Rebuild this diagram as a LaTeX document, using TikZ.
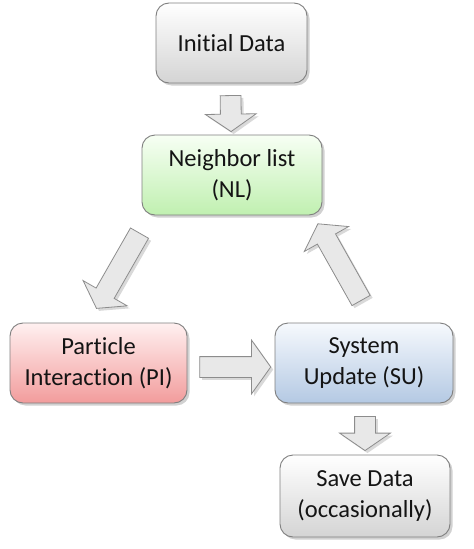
\documentclass[tikz,border=0pt]{standalone}
\usepackage{fontspec}
\setmainfont{Carlito}[Ligatures={NoCommon,NoRare}]
\usetikzlibrary{shapes.arrows,shadows,calc}
\definecolor{boxline}{HTML}{7F7F7F}
\definecolor{arrowline}{HTML}{8C8C8C}
\definecolor{arrowfill}{HTML}{E8E8E8}
\definecolor{textcol}{HTML}{141414}
\definecolor{graybot}{HTML}{D4D4D4}
\definecolor{greentop}{HTML}{F7FFF4}
\definecolor{greenbot}{HTML}{C0F0B0}
\definecolor{redtop}{HTML}{FFF0F0}
\definecolor{redbot}{HTML}{F29C9C}
\definecolor{bluetop}{HTML}{F6F9FD}
\definecolor{bluebot}{HTML}{B4C9E3}
\begin{document}
\begin{tikzpicture}[x=1pt,y=-1pt,
  box/.style={draw=boxline, line width=0.9pt, rounded corners=13pt,
    minimum height=80pt, align=center, inner sep=0pt,
    font=\fontsize{24.5}{31}\selectfont, text=textcol,
    drop shadow={shadow xshift=2.5pt, shadow yshift=-2.5pt, fill=black, opacity=.18}},
  graybox/.style={box, top color=white, bottom color=graybot},
  greenbox/.style={box, top color=greentop, bottom color=greenbot},
  redbox/.style={box, top color=redtop, bottom color=redbot},
  bluebox/.style={box, top color=bluetop, bottom color=bluebot},
  blockarrow/.style={single arrow, draw=arrowline, line width=0.8pt, fill=arrowfill,
    inner xsep=0pt, inner ysep=10pt, single arrow head extend=15pt,
    single arrow tip angle=111, anchor=center,
    drop shadow={shadow xshift=2.5pt, shadow yshift=-2.5pt, fill=black, opacity=.15}}
]
\useasboundingbox (0,0) rectangle (474,549);

\node[graybox,  minimum width=151pt] (init) at (231.5,43)  {Initial Data};
\node[greenbox, minimum width=180pt] (nl)   at (232,175)   {Neighbor list\\(NL)};
\node[redbox,   minimum width=177pt] (pi)   at (98.5,363)  {Particle\\Interaction (PI)};
\node[bluebox,  minimum width=178pt] (su)   at (364,363)   {System\\Update (SU)};
\node[graybox,  minimum width=170pt, minimum height=82pt] (save) at (365,496) {Save Data\\(occasionally)};

\coordinate (t1) at ($(init.south)+(-1,9)$);
\coordinate (h1) at ($(nl.north)+(-1,-7)$);
\coordinate (t2) at ($(nl.south west)+(-0.5,15)$);
\coordinate (h2) at ($(pi.north)+(0,-17.7)$);
\coordinate (t3) at ($(su.north)+(-1.5,-19.5)$);
\coordinate (h3) at ($(nl.south east)+(-2.5,12)$);
\coordinate (t4) at ($(pi.east)+(9,4)$);
\coordinate (h4) at ($(su.west)+(-8,4)$);
\coordinate (t5) at ($(su.south)+(1,10)$);
\coordinate (h5) at ($(save.north)+(0,-8)$);

\path (t1) -- (h1) node[midway, sloped, allow upside down, blockarrow, minimum height=36pt] (a1) {};
\path (t2) -- (h2) node[midway, sloped, allow upside down, blockarrow, minimum height=86.7pt] (a2) {};
\path (t3) -- (h3) node[midway, sloped, allow upside down, blockarrow, minimum height=88pt] (a3) {};
\path (t4) -- (h4) node[midway, sloped, allow upside down, blockarrow, minimum height=71pt,
  single arrow head extend=16.5pt, single arrow tip angle=109] (a4) {};
\path (t5) -- (h5) node[midway, sloped, allow upside down, blockarrow, minimum height=34pt] (a5) {};
\end{tikzpicture}
\end{document}
